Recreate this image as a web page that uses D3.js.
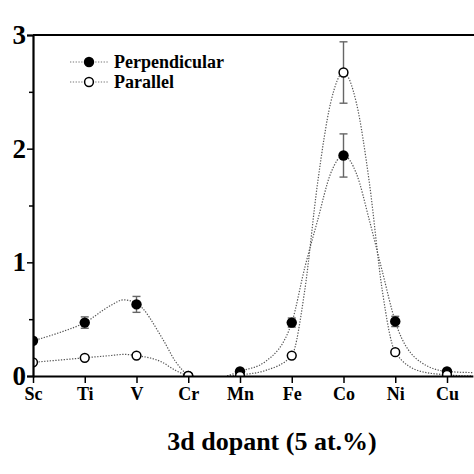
<!DOCTYPE html>
<html>
<head>
<meta charset="utf-8">
<script src="https://cdn.jsdelivr.net/npm/d3@7"></script>
<style>
  body { margin: 0; background: #fff; }
  svg text { font-family: "Liberation Serif", "DejaVu Serif", serif !important; font-weight: bold; }
</style>
</head>
<body>
<div id="chart"></div>
<script>
// measured values, one per dopant
var dopants = ["Sc", "Ti", "V", "Cr", "Mn", "Fe", "Co", "Ni", "Cu"];
var perpValues = [0.31, 0.47, 0.63, 0.0, 0.04, 0.47, 1.94, 0.48, 0.04];
var perpErrors = [0.02, 0.05, 0.07, 0.0, 0.01, 0.04, 0.19, 0.045, 0.01];
var parValues = [0.12, 0.16, 0.18, 0.0, 0.0, 0.18, 2.67, 0.21, 0.01];
var parErrors = [0.01, 0.01, 0.015, 0.0, 0.01, 0.015, 0.27, 0.015, 0.01];

// guide-to-the-eye curves (position in dopant index, value), null = gap
var fitX = [0, 0.5, 1, 1.5, 1.75, 2, 2.5, 2.75, 3, 3.25, 3.75, 4, 4.5, 5, 5.25, 5.5, 5.75, 6, 6.25, 6.5, 6.75, 7, 7.5, 8, 8.5];
var perpFit = [0.31, 0.38, 0.47, 0.62, 0.67, 0.64, 0.33, 0.13, 0.0, null, 0.0, 0.04, 0.13, 0.47, 0.95, 1.37, 1.78, 1.94, 1.78, 1.37, 0.92, 0.48, 0.12, 0.04, 0.03];
var parFit = [0.12, 0.14, 0.16, 0.18, 0.19, 0.18, 0.12, 0.05, 0.0, null, 0.0, 0.01, 0.05, 0.18, 0.75, 1.7, 2.4, 2.67, 2.4, 1.7, 0.75, 0.21, 0.04, 0.01, 0.0];

var yTicks = [0, 1, 2, 3];
var yMinorTicks = [0.5, 1.5, 2.5];
var legendLabels = ["Perpendicular", "Parallel"];
var xTitle = "3d dopant (5 at.%)";

var vis = {};
vis.margin = {top: 35, right: 0, bottom: 98, left: 33};
vis.width = 474 - vis.margin.left - vis.margin.right;
vis.height = 474 - vis.margin.top - vis.margin.bottom;

vis.svg = d3.select("#chart").append("svg")
    .attr("width", 474)
    .attr("height", 474)
    .append("g")
    .attr("transform", "translate(" + vis.margin.left + "," + vis.margin.top + ")");

vis.x = d3.scaleLinear().domain([0, 8.5]).range([0, 8.5 * 51.75]);
vis.y = d3.scaleLinear().domain([0, 3]).range([vis.height, 0]);

vis.svg.append("clipPath").attr("id", "plotclip")
  .append("rect")
    .attr("x", 0).attr("y", 0)
    .attr("width", vis.width).attr("height", vis.height);

var plot = vis.svg.append("g").attr("clip-path", "url(#plotclip)");

// dotted fit curves
var fitLine = d3.line()
    .defined(function(d){ return d[1] !== null; })
    .x(function(d){ return vis.x(d[0]); })
    .y(function(d){ return vis.y(d[1]); })
    .curve(d3.curveMonotoneX);

[perpFit, parFit].forEach(function(fit){
  plot.append("path")
      .datum(fitX.map(function(xv, i){ return [xv, fit[i]]; }))
      .attr("d", fitLine)
      .attr("fill", "none")
      .attr("stroke", "#555")
      .attr("stroke-width", 1.2)
      .attr("stroke-dasharray", "1.3,1.5");
});

// error bars
function errorBars(values, errors){
  var g = plot.append("g");
  values.forEach(function(v, i){
    if (errors[i] <= 0) return;
    var cx = vis.x(i);
    var top = vis.y(v + errors[i]), bot = vis.y(v - errors[i]);
    g.append("line").attr("x1", cx).attr("x2", cx).attr("y1", top).attr("y2", bot)
        .attr("stroke", "#666").attr("stroke-width", 1.4);
    [top, bot].forEach(function(yy){
      g.append("line").attr("x1", cx - 4).attr("x2", cx + 4).attr("y1", yy).attr("y2", yy)
          .attr("stroke", "#666").attr("stroke-width", 1.4);
    });
  });
}
errorBars(perpValues, perpErrors);
errorBars(parValues, parErrors);

plot.append("g").selectAll("circle")
    .data(perpValues)
  .enter().append("circle")
    .attr("cx", function(d, i){ return vis.x(i); })
    .attr("cy", function(d){ return vis.y(d); })
    .attr("r", 5.2)
    .attr("fill", "#000");

plot.append("g").selectAll("circle")
    .data(parValues)
  .enter().append("circle")
    .attr("cx", function(d, i){ return vis.x(i); })
    .attr("cy", function(d){ return vis.y(d); })
    .attr("r", 4.4)
    .attr("fill", "#fff")
    .attr("stroke", "#000")
    .attr("stroke-width", 1.5);

// axes
var yAxis = vis.svg.append("g")
    .call(d3.axisLeft(vis.y).tickValues(yTicks).tickSize(6).tickFormat(d3.format("d")));
yAxis.attr("font-family", "Liberation Serif");
yAxis.select(".domain").attr("stroke-width", 2.2);
yAxis.selectAll(".tick line").attr("stroke-width", 1.5);
yAxis.selectAll(".tick text")
    .attr("x", -7)
    .attr("font-size", 27)
    .attr("fill", "#000");

vis.svg.append("g")
    .call(d3.axisLeft(vis.y).tickValues(yMinorTicks).tickSize(4).tickFormat(""))
    .call(function(g){ g.select(".domain").remove(); })
    .selectAll(".tick line").attr("stroke-width", 1.5);

var xAxis = vis.svg.append("g")
    .attr("transform", "translate(0," + vis.height + ")")
    .call(d3.axisBottom(vis.x).tickValues(d3.range(dopants.length)).tickSize(7)
      .tickSizeOuter(0)
      .tickFormat(function(d){ return dopants[d]; }));
xAxis.attr("font-family", "Liberation Serif");
xAxis.select(".domain").attr("stroke-width", 2.2);
xAxis.selectAll(".tick line").attr("stroke-width", 1.5);
xAxis.selectAll(".tick text")
    .attr("y", 11)
    .attr("font-size", 18)
    .attr("fill", "#000");

// top frame
vis.svg.append("line")
    .attr("x1", 0).attr("x2", vis.width)
    .attr("y1", 0).attr("y2", 0)
    .attr("stroke", "#000").attr("stroke-width", 2.2);

vis.svg.append("text")
    .attr("x", 239)
    .attr("y", 415)
    .attr("text-anchor", "middle")
    .attr("font-family", "Liberation Serif")
    .attr("font-size", 26)
    .text(xTitle);

// legend
var legend = vis.svg.append("g").attr("transform", "translate(37,27)");
legendLabels.forEach(function(label, i){
  var row = legend.append("g").attr("transform", "translate(0," + (i * 20) + ")");
  row.append("line").attr("x1", 0).attr("x2", 38).attr("y1", 0).attr("y2", 0)
      .attr("stroke", "#777").attr("stroke-width", 1.1).attr("stroke-dasharray", "1.3,1.5");
  row.append("circle").attr("cx", 19).attr("cy", 0).attr("r", i === 0 ? 5.2 : 4.4)
      .attr("fill", i === 0 ? "#000" : "#fff")
      .attr("stroke", "#000").attr("stroke-width", i === 0 ? 0 : 1.5);
  row.append("text").attr("x", 44).attr("y", 6)
      .attr("font-family", "Liberation Serif")
      .attr("font-size", 18)
      .text(label);
});
</script>
</body>
</html>
